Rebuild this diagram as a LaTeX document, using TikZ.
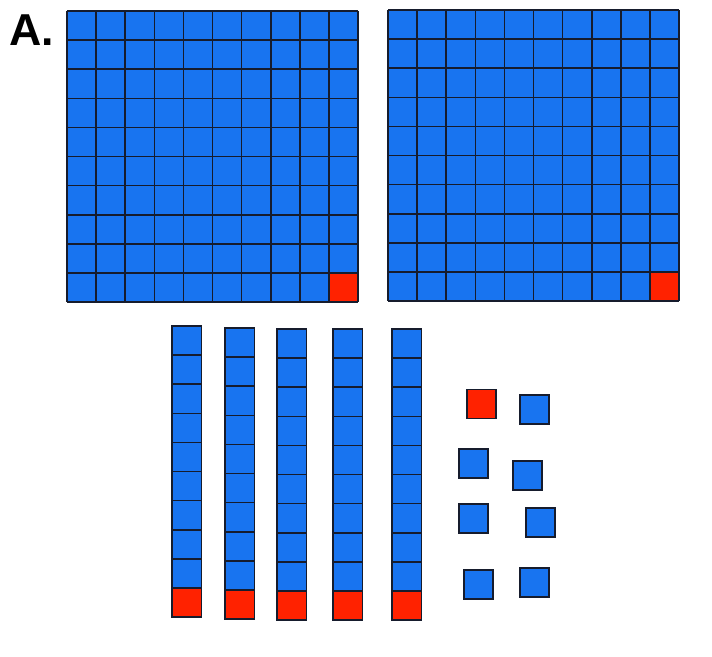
\documentclass[tikz,border=0pt]{standalone}
\usepackage{fontspec}
\setmainfont{Liberation Sans}
\usetikzlibrary{positioning}
\definecolor{cubeblue}{RGB}{24,116,240}
\definecolor{cubered}{RGB}{255,34,0}
\definecolor{edge}{RGB}{22,28,45}
\tikzset{
	edges/.style={draw=edge, line width=1.6pt},
	unit/.style={
		edges,
		fill=cubeblue,
		rectangle,
		inner sep=0pt,
		minimum size=29.3pt,
		anchor=north west
	},
	hundred/.pic = {
		% ten by ten flat, one red unit in the corner
		\fill[cubeblue] (0,0) rectangle (291,291);
		\fill[cubered] (261.9,261.9) rectangle (291,291);
		\foreach \i in {0,...,10}{
			\draw[edges] (\i*29.1,0) -- (\i*29.1,291);
			\draw[edges] (0,\i*29.1) -- (291,\i*29.1);
		}
	},
	rod/.pic = {
		% ten units stacked, the last one red
		\fill[cubeblue] (0,0) rectangle (29.3,261.9);
		\fill[cubered] (0,261.9) rectangle (29.3,291);
		\foreach \i in {1,...,9}
			\draw[edges] (0,\i*29.1) -- (29.3,\i*29.1);
		\draw[edges] (0,0) rectangle (29.3,291);
	}
}
\begin{document}
\begin{tikzpicture}[
		x=1pt, y=-1pt,
	]

	% Same frame as the scan
	\useasboundingbox (0,0) rectangle (712,656);

	\node[anchor=base west, inner sep=0pt, font=\fontsize{44.7}{44.7}\selectfont\bfseries] (title) at (9,45.5) {A.};

	% The two flats
	\pic at (67,11) {hundred};
	\pic at (388,10) {hundred};

	% The five rods
	\foreach \x/\y in {172/326, 225/328, 277/329, 333/329, 392/329}
		\pic at (\x,\y) {rod};

	% Loose units
	\node[unit, fill=cubered] (u0) at (466,388.5) {};
	\node[unit] (u1) at (519,394) {};
	\node[unit] (u2) at (458,448) {};
	\node[unit] (u3) at (512,460) {};
	\node[unit] (u4) at (458,503) {};
	\node[unit] (u5) at (525,507) {};
	\node[unit] (u6) at (463,569) {};
	\node[unit] (u7) at (519,567) {};

\end{tikzpicture}
\end{document}
